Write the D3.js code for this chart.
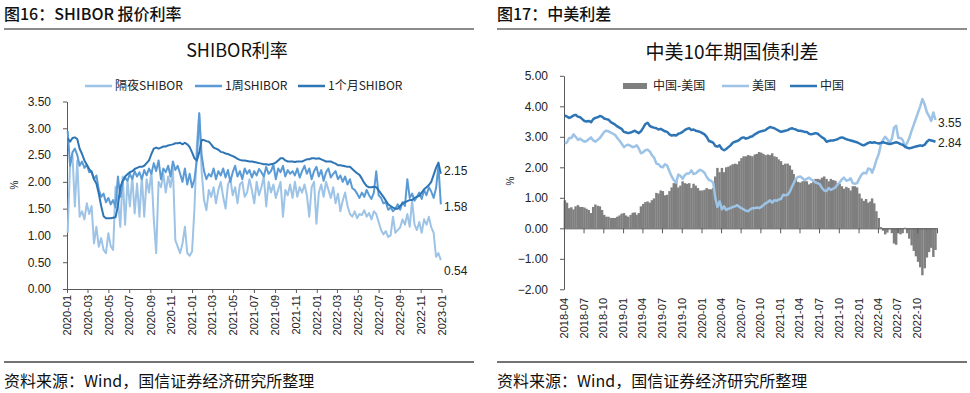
<!DOCTYPE html>
<html>
<head>
<meta charset="utf-8">
<script src="https://cdn.jsdelivr.net/npm/d3@7"></script>
<style>
  body { margin: 0; background: #fff; }
  text { font-family: "Liberation Sans", Arial, "Noto Sans CJK SC", sans-serif; }
  .cjk { font-family: "Noto Sans CJK SC", sans-serif; }
</style>
</head>
<body>
<div id="chart"></div>
<script>
// ---- left chart: SHIBOR, weekly from 2020-01-03 ----
var shiborStart = "2020-01-03";
var shiborNames = ["隔夜SHIBOR", "1周SHIBOR", "1个月SHIBOR"];
var shiborON = [
  1.05, 2.34, 2.50, 1.54, 2.40, 1.35, 1.45, 1.30, 1.60, 1.40,
  1.55, 0.85, 1.16, 0.79, 0.95, 0.73, 0.67, 1.04, 0.80, 0.73,
  1.91, 1.66, 1.16, 2.10, 1.20, 2.03, 1.54, 2.10, 1.41, 1.97,
  1.35, 2.10, 1.35, 2.05, 1.80, 2.20, 1.30, 0.67, 2.00, 1.90,
  2.15, 1.80, 2.10, 1.90, 2.25, 0.91, 0.79, 0.67, 0.85, 1.16,
  0.67, 0.62, 0.70, 1.50, 2.70, 3.28, 2.20, 1.66, 1.47, 1.85,
  1.72, 1.90, 1.60, 1.85, 2.00, 1.72, 1.50, 1.95, 2.05, 1.75,
  1.90, 1.60, 1.95, 2.00, 1.72, 1.80, 2.05, 1.85, 1.60, 2.00,
  1.75, 1.90, 2.10, 1.54, 2.00, 1.80, 1.95, 1.70, 1.85, 2.00,
  1.35, 1.85, 1.75, 1.95, 1.70, 2.00, 1.72, 1.90, 1.80, 1.95,
  1.75, 1.35, 1.90, 2.00, 1.22, 1.80, 1.95, 1.72, 2.00, 1.85,
  1.70, 1.90, 1.60, 1.78, 1.45, 1.65, 1.80, 1.55, 1.40, 1.35,
  1.45, 1.32, 1.40, 1.38, 1.47, 1.35, 1.42, 1.30, 1.45, 1.40,
  1.25, 1.10, 1.02, 1.08, 0.97, 1.00, 1.35, 1.05, 1.10, 1.15,
  1.30, 1.20, 1.40, 1.16, 1.66, 1.20, 1.10, 1.25, 1.05, 1.30,
  1.20, 1.35, 1.15, 1.05, 0.60, 0.67, 0.54
];
var shibor1W = [
  2.95, 2.30, 2.55, 2.62, 2.50, 2.30, 2.38, 2.26, 2.32, 2.18,
  2.20, 2.05, 2.12, 1.85, 1.72, 1.78, 1.62, 1.70, 1.58, 1.66,
  1.52, 2.10, 1.72, 2.00, 2.08, 2.02, 2.15, 2.05, 2.20, 2.10,
  2.18, 2.05, 2.22, 2.12, 2.25, 2.15, 2.35, 2.20, 2.40, 2.05,
  2.25, 2.18, 2.30, 2.10, 2.38, 2.22, 2.30, 2.15, 2.00, 2.25,
  1.95, 2.15, 1.90, 2.05, 2.40, 3.28, 2.50, 2.20, 2.05, 2.15,
  2.10, 2.25, 2.05, 2.20, 2.12, 2.25, 2.08, 2.22, 2.00, 2.18,
  2.30, 2.10, 2.20, 2.05, 2.25, 2.15, 2.22, 2.08, 2.20, 2.12,
  2.24, 2.18, 2.10, 2.28, 2.15, 2.20, 2.32, 2.05, 2.25, 2.18,
  2.30, 2.10, 2.22, 2.15, 2.20, 2.12, 2.25, 2.08, 2.20, 2.30,
  2.15, 2.25, 2.05, 2.20, 2.28, 2.10, 2.22, 2.02, 2.18, 2.25,
  2.08, 2.15, 2.20, 2.05, 2.12, 2.00, 2.10, 1.95, 2.05, 1.88,
  1.85, 1.78, 1.70, 1.80, 1.72, 1.85, 1.75, 1.68, 1.80, 2.20,
  1.75, 1.70, 1.60, 1.62, 1.48, 1.52, 1.45, 1.50, 1.58, 1.48,
  1.62, 1.55, 2.05, 1.70, 1.78, 1.65, 1.72, 1.80, 1.68, 1.85,
  1.75, 1.90, 1.82, 1.70, 1.88, 2.30, 1.58
];
var shibor1M = [
  2.81, 2.75, 2.82, 2.83, 2.80, 2.62, 2.52, 2.40, 2.32, 2.24,
  2.18, 2.05, 1.97, 1.78, 1.55, 1.36, 1.32, 1.32, 1.32, 1.33,
  1.34, 1.55, 1.90, 2.02, 2.10, 2.14, 2.18, 2.20, 2.24, 2.26,
  2.28, 2.28, 2.30, 2.35, 2.40, 2.52, 2.62, 2.64, 2.62, 2.64,
  2.66, 2.66, 2.68, 2.69, 2.70, 2.72, 2.72, 2.73, 2.70, 2.73,
  2.70, 2.65, 2.55, 2.44, 2.40, 2.55, 2.78, 2.78, 2.76, 2.75,
  2.70, 2.64, 2.62, 2.60, 2.56, 2.55, 2.53, 2.52, 2.50, 2.48,
  2.46, 2.43, 2.41, 2.40, 2.40, 2.39, 2.38, 2.38, 2.37, 2.36,
  2.35, 2.34, 2.33, 2.33, 2.32, 2.33, 2.34, 2.36, 2.40, 2.44,
  2.44, 2.40, 2.38, 2.38, 2.38, 2.37, 2.38, 2.38, 2.38, 2.40,
  2.42, 2.42, 2.44, 2.44, 2.43, 2.44, 2.42, 2.40, 2.38, 2.38,
  2.38, 2.36, 2.34, 2.31, 2.31, 2.30, 2.29, 2.28, 2.28, 2.24,
  2.20, 2.16, 2.13, 2.06, 1.98, 1.92, 1.90, 1.90, 1.91, 1.90,
  1.84, 1.78, 1.72, 1.65, 1.58, 1.55, 1.52, 1.50, 1.50, 1.55,
  1.60, 1.62, 1.64, 1.66, 1.66, 1.70, 1.72, 1.74, 1.80, 1.86,
  1.90, 1.94, 2.00, 2.13, 2.26, 2.36, 2.15
];
var shiborTicks = [0, 0.5, 1, 1.5, 2, 2.5, 3, 3.5];

// ---- right chart: 10y yields, three points per month from 2018-04 ----
var bondStart = "2018-04";
var bondDays = [5, 15, 25];
var bondNames = ["中国-美国", "美国", "中国"];
var cnYield = [
  3.70, 3.66, 3.62,  3.65, 3.70, 3.72,  3.66, 3.64, 3.58,  3.52, 3.50, 3.52,
  3.48, 3.58, 3.62,  3.64, 3.68, 3.66,  3.60, 3.58, 3.56,  3.48, 3.44, 3.40,
  3.34, 3.30, 3.26,
  3.16, 3.14, 3.12,  3.14, 3.17, 3.20,  3.16, 3.12, 3.18,  3.30, 3.42, 3.46,
  3.36, 3.32, 3.30,  3.28, 3.24, 3.26,  3.22, 3.18, 3.16,  3.08, 3.04, 3.06,
  3.04, 3.10, 3.12,  3.16, 3.22, 3.26,  3.28, 3.22, 3.24,  3.20, 3.18, 3.16,
  3.12, 3.08, 3.00,  2.86, 2.84, 2.80,  2.70, 2.68, 2.72,  2.60, 2.56, 2.60,
  2.66, 2.72, 2.80,  2.84, 2.86, 2.90,  2.96, 2.98, 2.94,  2.96, 3.00, 3.02,
  3.08, 3.12, 3.16,  3.18, 3.20, 3.22,  3.28, 3.32, 3.30,  3.28, 3.24, 3.20,
  3.16, 3.18, 3.20,  3.22, 3.26, 3.28,  3.26, 3.24, 3.20,  3.20, 3.18, 3.16,
  3.16, 3.10, 3.08,  3.10, 3.12, 3.10,  3.04, 2.98, 2.94,  2.84, 2.86, 2.88,
  2.88, 2.90, 2.92,  2.96, 2.98, 2.96,  2.92, 2.90, 2.88,  2.86, 2.84, 2.82,
  2.78, 2.74, 2.72,  2.76, 2.80, 2.82,  2.80, 2.82, 2.80,  2.78, 2.80, 2.82,
  2.80, 2.78, 2.76,  2.78, 2.80, 2.82,  2.80, 2.76, 2.74,  2.68, 2.64, 2.62,
  2.64, 2.66, 2.68,  2.70, 2.72, 2.70,  2.74, 2.84, 2.90,  2.88, 2.86, 2.84
];
var usYield = [
  2.78, 2.82, 2.96,  2.96, 3.08, 3.00,  2.90, 2.94, 2.88,  2.84, 2.86, 2.92,
  2.98, 2.88, 2.84,  2.90, 2.96, 3.06,  3.16, 3.20, 3.18,  3.14, 3.10, 3.06,
  2.96, 2.88, 2.78,
  2.66, 2.72, 2.74,  2.70, 2.66, 2.68,  2.72, 2.62, 2.46,  2.50, 2.56, 2.58,
  2.52, 2.40, 2.32,  2.12, 2.10, 2.02,  2.00, 2.10, 2.06,  1.86, 1.70, 1.58,
  1.50, 1.76, 1.72,  1.62, 1.74, 1.80,  1.80, 1.90, 1.78,  1.80, 1.86, 1.92,
  1.88, 1.82, 1.68,  1.58, 1.56, 1.48,  1.00, 0.70, 0.88,  0.62, 0.72, 0.60,
  0.64, 0.66, 0.70,  0.72, 0.76, 0.70,  0.66, 0.62, 0.58,  0.56, 0.62, 0.66,
  0.66, 0.68, 0.66,  0.70, 0.76, 0.82,  0.86, 0.92, 0.84,  0.92, 0.90, 0.94,
  0.96, 1.10, 1.08,  1.10, 1.20, 1.36,  1.48, 1.62, 1.68,  1.70, 1.64, 1.58,
  1.62, 1.66, 1.60,  1.56, 1.50, 1.48,  1.44, 1.32, 1.24,  1.22, 1.32, 1.26,
  1.30, 1.34, 1.44,  1.50, 1.60, 1.66,  1.56, 1.58, 1.64,  1.48, 1.46, 1.48,
  1.64, 1.76, 1.82,  1.80, 1.96, 1.94,  1.82, 2.00, 2.24,  2.44, 2.76, 2.90,
  3.00, 2.92, 2.80,  2.94, 3.30, 3.36,  2.96, 2.96, 2.90,  2.66, 2.80, 2.96,
  3.20, 3.40, 3.60,  3.80, 4.00, 4.24,  4.05, 3.80, 3.68,  3.52, 3.80, 3.55
];
var bondTicks = [-2, -1, 0, 1, 2, 3, 4, 5];

var colON = "#9dc3e6", col1W = "#5b9bd5", col1M = "#2e75b6";
var colBar = "#7f7f7f", colUS = "#9dc3e6", colCN = "#2e75b6";
var axisCol = "#595959";

var W = 970, H = 393;
var svg = d3.select("#chart").append("svg")
    .attr("width", W)
    .attr("height", H);

svg.append("rect").attr("width", W).attr("height", H).attr("fill", "#fff");

var fmt2 = d3.format(".2f");
var fmtMonth = d3.timeFormat("%Y-%m");

// panel frame: header, rules, footer
function frame(x0, x1, header) {
    svg.append("text")
        .attr("class", "cjk")
        .attr("x", x0).attr("y", 20)
        .attr("font-size", 16)
        .attr("font-weight", 500)
        .attr("fill", "#111")
        .text(header);
    svg.append("line")
        .attr("x1", x0).attr("x2", x1)
        .attr("y1", 29).attr("y2", 29)
        .attr("stroke", "#666").attr("stroke-width", 1.5);
    svg.append("line")
        .attr("x1", x0).attr("x2", x1)
        .attr("y1", 362).attr("y2", 362)
        .attr("stroke", "#444").attr("stroke-width", 1.5);
    svg.append("text")
        .attr("class", "cjk")
        .attr("x", x0).attr("y", 387)
        .attr("font-size", 16)
        .attr("fill", "#111")
        .text("资料来源：Wind，国信证券经济研究所整理");
}
frame(4, 474, "图16：SHIBOR 报价利率");
frame(497, 967, "图17：中美利差");

function styleAxis(g) {
    g.select(".domain").attr("stroke", axisCol);
    g.selectAll(".tick line").attr("stroke", axisCol);
    g.selectAll(".tick text")
        .attr("fill", "#222")
        .attr("font-size", 12);
}

function rotateLabels(g) {
    g.selectAll(".tick text")
        .attr("font-size", 11)
        .attr("transform", "rotate(-90)")
        .attr("text-anchor", "end")
        .attr("dx", "-6px")
        .attr("dy", "-0.3em");
}

// ================= left: SHIBOR =================
var t0 = d3.timeParse("%Y-%m-%d")(shiborStart);
var shiborDates = shiborON.map(function(d, i) {
    return d3.timeDay.offset(t0, 7 * i);
});

var xL = d3.scaleTime()
    .domain([new Date(2020, 0, 1), new Date(2023, 0, 1)])
    .range([67, 441.5]);
var yL = d3.scaleLinear()
    .domain([0, 3.5])
    .range([289, 101.5]);

svg.append("text")
    .attr("class", "cjk")
    .attr("x", 237).attr("y", 57)
    .attr("text-anchor", "middle")
    .attr("font-size", 18)
    .attr("fill", "#111")
    .text("SHIBOR利率");

var gLy = svg.append("g")
    .attr("transform", "translate(67,0)")
    .call(d3.axisLeft(yL).tickValues(shiborTicks).tickFormat(fmt2).tickSize(4).tickSizeOuter(0).tickPadding(12));
styleAxis(gLy);

var gLx = svg.append("g")
    .attr("transform", "translate(0,289)")
    .call(d3.axisBottom(xL).ticks(d3.timeMonth.every(2)).tickFormat(fmtMonth).tickSize(4).tickSizeOuter(0));
styleAxis(gLx);
rotateLabels(gLx);

svg.append("text")
    .attr("transform", "translate(18,185) rotate(-90)")
    .attr("text-anchor", "middle")
    .attr("font-size", 10)
    .attr("fill", "#222")
    .text("%");

var shiborSeries = [
    { name: shiborNames[0], values: shiborON, color: colON },
    { name: shiborNames[1], values: shibor1W, color: col1W },
    { name: shiborNames[2], values: shibor1M, color: col1M }
];

var lineL = d3.line()
    .x(function(d, i) { return xL(shiborDates[i]); })
    .y(function(d) { return yL(d); });

svg.selectAll("path.shibor")
    .data(shiborSeries)
    .enter()
    .append("path")
    .attr("class", "shibor")
    .attr("d", function(s) { return lineL(s.values); })
    .attr("fill", "none")
    .attr("stroke", function(s) { return s.color; })
    .attr("stroke-width", 2)
    .attr("stroke-linejoin", "round");

// end labels (nudged apart like the original)
var endNudgeL = [11, 2, -3];
svg.selectAll("text.endL")
    .data(shiborSeries)
    .enter()
    .append("text")
    .attr("class", "endL")
    .attr("x", 444)
    .attr("y", function(s, i) { return yL(s.values[s.values.length - 1]) + endNudgeL[i]; })
    .attr("dy", "0.35em")
    .attr("font-size", 12)
    .attr("fill", "#222")
    .text(function(s) { return fmt2(s.values[s.values.length - 1]); });

// legend
var legL = [85, 195, 298];
shiborSeries.forEach(function(s, i) {
    svg.append("line")
        .attr("x1", legL[i]).attr("x2", legL[i] + 27)
        .attr("y1", 86).attr("y2", 86)
        .attr("stroke", s.color).attr("stroke-width", 2.5);
    svg.append("text")
        .attr("class", "cjk")
        .attr("x", legL[i] + 30).attr("y", 86)
        .attr("dy", "0.35em")
        .attr("font-size", 12)
        .attr("fill", "#222")
        .text(s.name);
});

// ================= right: CN-US 10y =================
var b0 = d3.timeParse("%Y-%m")(bondStart);
var bondDates = cnYield.map(function(d, i) {
    var m = d3.timeMonth.offset(b0, Math.floor(i / 3));
    return new Date(m.getFullYear(), m.getMonth(), bondDays[i % 3]);
});
var spread = cnYield.map(function(d, i) { return d - usYield[i]; });

var xR = d3.scaleTime()
    .domain([new Date(2018, 3, 1), new Date(2023, 0, 1)])
    .range([564, 937]);
var yR = d3.scaleLinear()
    .domain([-2, 5])
    .range([289.3, 75.8]);

svg.append("text")
    .attr("class", "cjk")
    .attr("x", 732).attr("y", 59)
    .attr("text-anchor", "middle")
    .attr("font-size", 19)
    .attr("fill", "#111")
    .text("中美10年期国债利差");

// spread bars
var barW = (xR(bondDates[1]) - xR(bondDates[0])) + 0.3;
svg.selectAll("rect.spread")
    .data(spread)
    .enter()
    .append("rect")
    .attr("class", "spread")
    .attr("x", function(d, i) { return xR(bondDates[i]) - barW / 2; })
    .attr("y", function(d) { return yR(Math.max(d, 0)); })
    .attr("width", barW)
    .attr("height", function(d) { return Math.abs(yR(d) - yR(0)); })
    .attr("fill", colBar);

var gRy = svg.append("g")
    .attr("transform", "translate(564,0)")
    .call(d3.axisLeft(yR).tickValues(bondTicks).tickFormat(fmt2).tickSize(4).tickSizeOuter(0).tickPadding(12));
styleAxis(gRy);
gRy.selectAll(".tick text").text(function(d) { return fmt2(d).replace("-", "-"); });

// zero line with quarterly ticks
var gRx = svg.append("g")
    .attr("transform", "translate(0," + yR(0) + ")")
    .call(d3.axisBottom(xR).ticks(d3.timeMonth.every(3)).tickFormat("").tickSize(5).tickSizeOuter(0));
styleAxis(gRx);

// quarterly labels at bottom
var qTicks = xR.ticks(d3.timeMonth.every(3)).filter(function(d) { return d < new Date(2023, 0, 1); });
svg.selectAll("text.qlab")
    .data(qTicks)
    .enter()
    .append("text")
    .attr("class", "qlab")
    .attr("transform", function(d) { return "translate(" + (xR(d) + 4) + ",298) rotate(-90)"; })
    .attr("text-anchor", "end")
    .attr("font-size", 11)
    .attr("fill", "#222")
    .text(function(d) { return fmtMonth(d); });

svg.append("text")
    .attr("transform", "translate(514,181) rotate(-90)")
    .attr("text-anchor", "middle")
    .attr("font-size", 10)
    .attr("fill", "#222")
    .text("%");

var bondSeries = [
    { name: bondNames[1], values: usYield, color: colUS },
    { name: bondNames[2], values: cnYield, color: colCN }
];
var lineR = d3.line()
    .x(function(d, i) { return xR(bondDates[i]); })
    .y(function(d) { return yR(d); });

svg.selectAll("path.bond")
    .data(bondSeries)
    .enter()
    .append("path")
    .attr("class", "bond")
    .attr("d", function(s) { return lineR(s.values); })
    .attr("fill", "none")
    .attr("stroke", function(s) { return s.color; })
    .attr("stroke-width", 2.5)
    .attr("stroke-linejoin", "round");

var endNudgeR = [3, 1];
svg.selectAll("text.endR")
    .data(bondSeries)
    .enter()
    .append("text")
    .attr("class", "endR")
    .attr("x", 938)
    .attr("y", function(s, i) { return yR(s.values[s.values.length - 1]) + endNudgeR[i]; })
    .attr("dy", "0.35em")
    .attr("font-size", 12)
    .attr("fill", "#222")
    .text(function(s) { return fmt2(s.values[s.values.length - 1]); });

// legend
svg.append("rect")
    .attr("x", 623).attr("y", 83)
    .attr("width", 24).attr("height", 6)
    .attr("fill", colBar);
svg.append("text")
    .attr("class", "cjk")
    .attr("x", 653).attr("y", 86).attr("dy", "0.35em")
    .attr("font-size", 12).attr("fill", "#222")
    .text(bondNames[0]);
var legR = [722, 790];
bondSeries.forEach(function(s, i) {
    svg.append("line")
        .attr("x1", legR[i]).attr("x2", legR[i] + 27)
        .attr("y1", 86).attr("y2", 86)
        .attr("stroke", s.color).attr("stroke-width", 2.5);
    svg.append("text")
        .attr("class", "cjk")
        .attr("x", legR[i] + 30).attr("y", 86).attr("dy", "0.35em")
        .attr("font-size", 12).attr("fill", "#222")
        .text(s.name);
});
</script>
</body>
</html>
